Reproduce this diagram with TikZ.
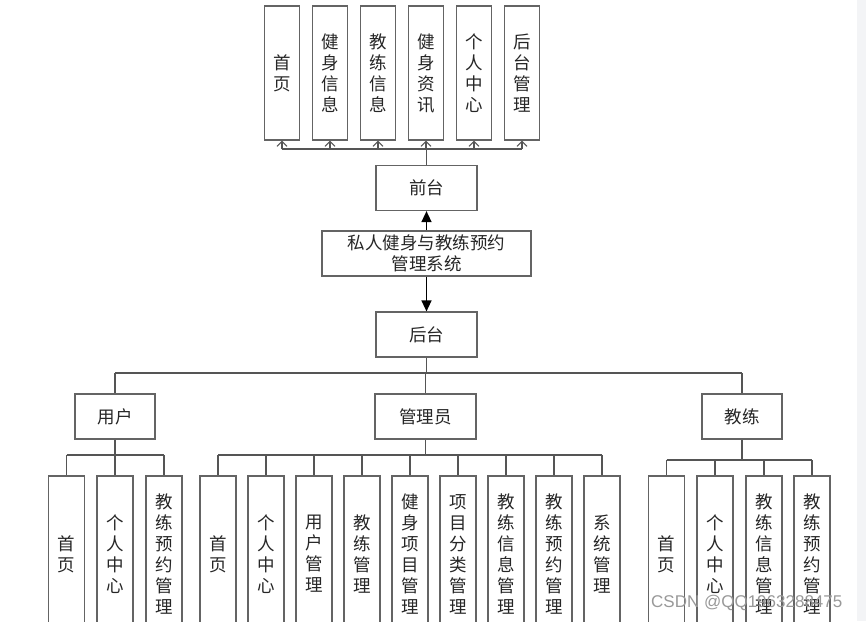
\documentclass[tikz,border=0pt]{standalone}
\usepackage{fontspec}
\setmainfont{Noto Sans CJK SC}
\newfontfamily\wmfont{Liberation Sans}
\usetikzlibrary{arrows.meta}
\definecolor{linegray}{RGB}{85,85,85}
\definecolor{boxgray}{RGB}{100,100,100}
\definecolor{stripgray}{RGB}{243,244,246}
\begin{document}
\begin{tikzpicture}[x=1pt,y=-1pt,
  box/.style={draw=boxgray,line width=1.2pt,fill=white,inner sep=0pt,align=center,
    font=\fontsize{17.5}{21}\selectfont,text=black!85},
  hbox/.style={box,minimum height=45pt},
  vtop/.style={box,minimum width=35pt,minimum height=134pt},
  vbot/.style={box,minimum width=36pt,minimum height=156pt},
  conn/.style={draw=linegray,line width=1.2pt},
  openarrow/.style={conn,-{Straight Barb[length=5pt,width=10pt,line width=1pt]}},
  bigarrow/.style={draw=black,line width=1.4pt,-{Triangle[length=11pt,width=10pt]}}]
\useasboundingbox (0,0) rectangle (866,621);
\clip (0,0) rectangle (866,621);
\fill[white] (0,0) rectangle (866,621);
\fill[stripgray] (857,0) rectangle (866,621);

% top row
\node[vtop] (t1) at (282,73) {首\\页};
\node[vtop] (t2) at (330,73) {健\\身\\信\\息};
\node[vtop] (t3) at (378,73) {教\\练\\信\\息};
\node[vtop] (t4) at (426,73) {健\\身\\资\\讯};
\node[vtop] (t5) at (474,73) {个\\人\\中\\心};
\node[vtop] (t6) at (522,73) {后\\台\\管\\理};

\node[hbox,minimum width=101pt] (qt) at (426.5,188) {前台};
\node[hbox,minimum width=209pt] (sys) at (426.5,253.5) {私人健身与教练预约\\管理系统};
\node[hbox,minimum width=101pt] (ht) at (426.5,334.5) {后台};

\node[hbox,minimum width=80pt] (user) at (115,416.5) {用户};
\node[hbox,minimum width=101pt] (admin) at (425.5,416.5) {管理员};
\node[hbox,minimum width=80pt] (coach) at (742,416.5) {教练};

% user children
\node[vbot] (u1) at (66.5,554) {首\\页};
\node[vbot] (u2) at (115,554) {个\\人\\中\\心};
\node[vbot] (u3) at (164,554) {教\\练\\预\\约\\管\\理};

% admin children
\node[vbot] (a1) at (218,554) {首\\页};
\node[vbot] (a2) at (266,554) {个\\人\\中\\心};
\node[vbot] (a3) at (314,554) {用\\户\\管\\理};
\node[vbot] (a4) at (362,554) {教\\练\\管\\理};
\node[vbot] (a5) at (410,554) {健\\身\\项\\目\\管\\理};
\node[vbot] (a6) at (458,554) {项\\目\\分\\类\\管\\理};
\node[vbot] (a7) at (506,554) {教\\练\\信\\息\\管\\理};
\node[vbot] (a8) at (554,554) {教\\练\\预\\约\\管\\理};
\node[vbot] (a9) at (602,554) {系\\统\\管\\理};

% coach children
\node[vbot] (c1) at (666.5,554) {首\\页};
\node[vbot] (c2) at (715,554) {个\\人\\中\\心};
\node[vbot] (c3) at (764,554) {教\\练\\信\\息\\管\\理};
\node[vbot] (c4) at (812,554) {教\\练\\预\\约\\管\\理};

% bus coordinates
\coordinate (topbus) at (426,149);
\coordinate (mainbus) at (426,373);
\coordinate (ubus) at (115,455);
\coordinate (abus) at (425.5,455);
\coordinate (cbus) at (742,460);

% front connectors
\draw[conn] (qt.north) -- (qt.north |- topbus);
\draw[conn] (t1.south |- topbus) -- (t6.south |- topbus);
\foreach \n in {t1,t2,t3,t4,t5,t6}
  \draw[openarrow] (\n.south |- topbus) -- (\n.south);

\draw[bigarrow] (sys.north) -- (qt.south);
\draw[bigarrow] (sys.south) -- (ht.north);

% back connectors
\draw[conn] (ht.south) -- (ht.south |- mainbus);
\draw[conn] (user.north |- mainbus) -- (coach.north |- mainbus);
\foreach \n in {user,admin,coach}
  \draw[conn] (\n.north |- mainbus) -- (\n.north);

\draw[conn] (user.south) -- (ubus);
\draw[conn] (u1.north |- ubus) -- (u3.north |- ubus);
\foreach \n in {u1,u2,u3}
  \draw[conn] (\n.north |- ubus) -- (\n.north);

\draw[conn] (admin.south) -- (abus);
\draw[conn] (a1.north |- abus) -- (a9.north |- abus);
\foreach \n in {a1,a2,a3,a4,a5,a6,a7,a8,a9}
  \draw[conn] (\n.north |- abus) -- (\n.north);

\draw[conn] (coach.south) -- (cbus);
\draw[conn] (c1.north |- cbus) -- (c4.north |- cbus);
\foreach \n in {c1,c2,c3,c4}
  \draw[conn] (\n.north |- cbus) -- (\n.north);

\node[anchor=west,inner sep=0pt,font=\wmfont\fontsize{17}{17}\selectfont,text=black!40] (wm) at (651,603) {CSDN @QQ1963288475};
\end{tikzpicture}
\end{document}
